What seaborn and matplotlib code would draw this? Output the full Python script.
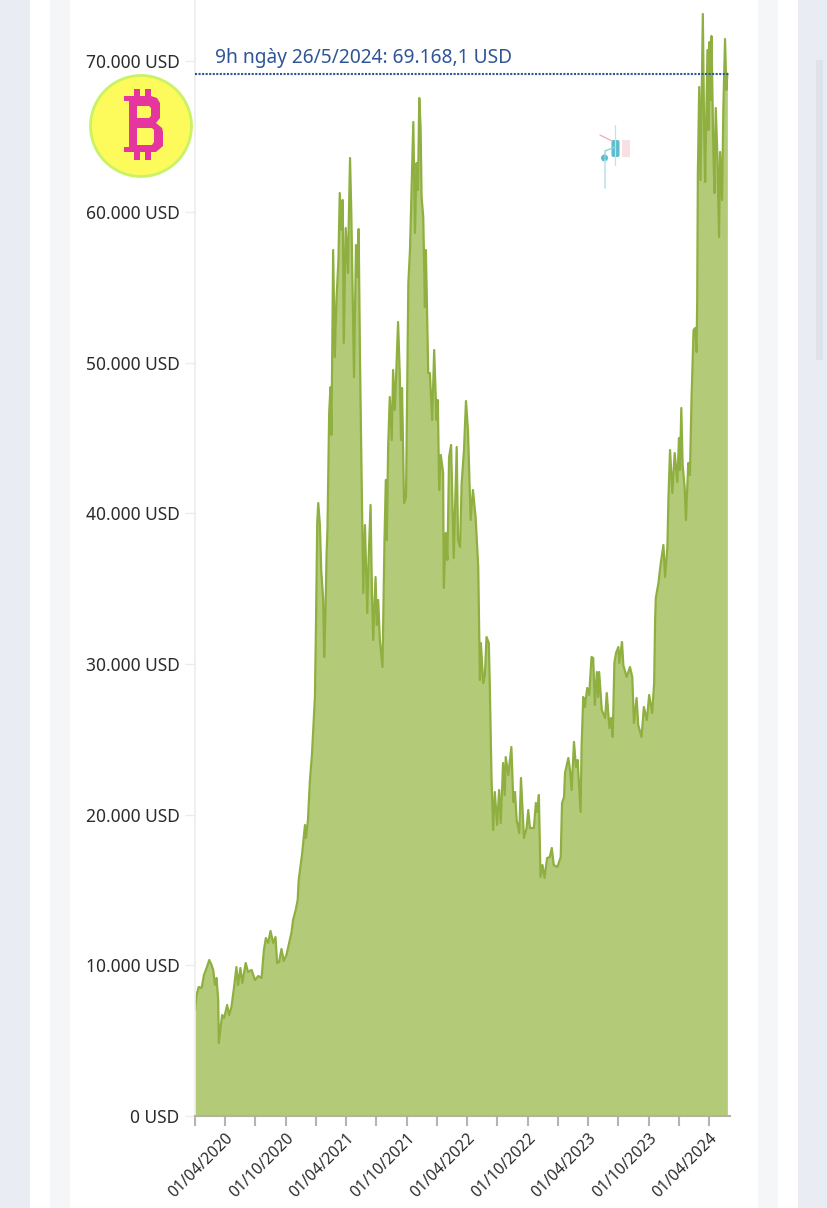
import numpy as np
import pandas as pd
import seaborn as sns
import matplotlib.pyplot as plt
import matplotlib.dates as mdates
from matplotlib.patches import Rectangle, Circle, FancyBboxPatch

# Values
start_date = "2020-01-01"
days_from_start = [
    0, 5, 11, 20, 27, 35, 43, 50, 55, 60, 65, 70, 72, 77, 82, 88, 97, 103, 110, 118,
    125, 130, 137, 143, 153, 160, 171, 181, 191, 201, 208, 214, 221, 228, 236, 243, 248, 254, 261, 268,
    276, 284, 291, 296, 304, 310, 313, 323, 332, 335, 341, 347, 353, 362, 365, 369, 372, 377, 381, 387,
    390, 394, 397, 400, 405, 409, 412, 417, 422, 427, 433, 437, 442, 446, 449, 455, 462, 464, 468, 472,
    480, 486, 490, 494, 498, 503, 508, 513, 520, 524, 530, 534, 538, 545, 549, 553, 558, 566, 572, 576,
    579, 583, 588, 594, 598, 603, 608, 613, 618, 622, 625, 631, 637, 644, 649, 654, 659, 664, 669, 673,
    677, 681, 684, 689, 694, 697, 704, 709, 716, 722, 729, 733, 737, 742, 749, 751, 757, 762, 767, 773,
    781, 790, 794, 800, 805, 812, 818, 824, 832, 839, 847, 852, 855, 860, 863, 870, 875, 880, 887, 890,
    895, 900, 905, 912, 918, 923, 930, 935, 938, 946, 955, 961, 966, 971, 979, 984, 993, 1001, 1006, 1011,
    1023, 1029, 1034, 1038, 1043, 1049, 1055, 1063, 1071, 1077, 1083, 1094, 1104, 1108, 1114, 1117, 1127, 1132, 1137, 1144,
    1150, 1155, 1164, 1167, 1172, 1177, 1184, 1190, 1197, 1202, 1207, 1213, 1217, 1220, 1228, 1238, 1243, 1251, 1256, 1261,
    1266, 1271, 1278, 1281, 1289, 1293, 1303, 1313, 1320, 1325, 1333, 1338, 1348, 1355, 1364, 1371, 1380, 1386, 1389, 1391,
    1399, 1406, 1414, 1419, 1426, 1429, 1434, 1441, 1448, 1456, 1461, 1464, 1468, 1472, 1478, 1482, 1489, 1494, 1499, 1502,
    1505, 1510, 1514, 1516, 1518, 1522, 1526, 1533, 1537, 1540, 1547, 1550, 1553, 1556, 1559, 1565, 1568, 1572, 1577, 1582,
    1585, 1591, 1595, 1600, 1604, 1607,
]
btc_usd = [
    7034, 8030, 8560, 8494, 9357, 9821, 10352, 10020, 9689, 8693, 9158, 7698, 4844, 5840, 6702, 6503, 7366, 6702, 7233, 8560,
    9888, 8693, 9821, 8826, 10153, 9556, 9689, 9025, 9290, 9158, 11016, 11812, 11480, 12277, 11480, 11878, 10153, 10219, 11082, 10286,
    10684, 11480, 12144, 13007, 13670, 14334, 15661, 17320, 19311, 18448, 19643, 22297, 23956, 27805, 32251, 39351, 40679, 39219, 36233, 34242,
    30459, 33578, 37095, 39086, 46651, 48376, 45191, 57468, 50367, 54150, 56804, 61250, 58795, 60786, 51296, 58928, 55941, 59127, 63573, 59790,
    49040, 57800, 55676, 58861, 50367, 42205, 34706, 39219, 33379, 36896, 40546, 34905, 31587, 35768, 32583, 34242, 31587, 29796, 38223, 42205,
    38223, 44395, 47713, 44859, 49505, 46850, 49637, 52690, 49305, 44859, 48310, 40679, 41077, 55278, 57468, 61648, 65962, 58596, 63241, 61449,
    67555, 65564, 60985, 59658, 53685, 57468, 49305, 49305, 46187, 50832, 46187, 47514, 41541, 43864, 42669, 35038, 38688, 36896, 43731, 44528,
    37029, 44395, 38223, 37759, 42006, 44196, 47447, 45523, 39551, 41541, 39750, 37692, 36432, 28933, 31388, 28734, 29265, 31786, 31388, 28468,
    22496, 18979, 21501, 19311, 21633, 19443, 23425, 21302, 23823, 22629, 24487, 20837, 21501, 19643, 18780, 22430, 18448, 19112, 20306, 19112,
    19112, 20771, 20173, 21302, 15860, 16656, 15794, 17121, 17187, 17784, 16656, 16524, 17187, 20771, 21169, 22761, 23757, 22961, 21633, 24819,
    23160, 23624, 20173, 24487, 27805, 27141, 28402, 27938, 30459, 30393, 27274, 29464, 27805, 29464, 26942, 26411, 28070, 25748, 26411, 25150,
    30061, 30725, 31123, 30061, 31455, 29928, 29132, 29796, 29132, 26079, 27738, 25947, 25150, 27141, 26279, 27938, 26743, 28734, 32915, 34374,
    35370, 36697, 37892, 35768, 37759, 40878, 44196, 41342, 43997, 42072, 44992, 42869, 46983, 43200, 41740, 39551, 43333, 42537, 47713, 49969,
    52159, 52292, 50699, 54150, 62577, 68284, 62113, 73129, 65232, 61980, 70740, 65431, 71271, 67422, 71669, 63905, 61250, 66891, 63639, 58330,
    63971, 60786, 66957, 71470, 68085, 69168,
]
y_ticks = [0, 10000, 20000, 30000, 40000, 50000, 60000, 70000]
y_labels = ["0 USD", "10.000 USD", "20.000 USD", "30.000 USD", "40.000 USD",
            "50.000 USD", "60.000 USD", "70.000 USD"]
tick_dates = pd.date_range("2020-01-01", "2024-04-01", freq="QS")
last_price = 69168.1
note = "9h ngày 26/5/2024: 69.168,1 USD"

FILL = "#b3cb78"
LINE = "#8fb040"
BLUE = "#2f5596"
W, H = 828, 1208

sns.set_theme(style="white")
plt.rcParams['font.family'] = ['Noto Sans', 'DejaVu Sans']

df = pd.DataFrame({"date": pd.Timestamp(start_date) + pd.to_timedelta(days_from_start, unit="D"),
                   "price": btc_usd})

fig = plt.figure(figsize=(W / 100, H / 100), dpi=100, facecolor="white")


def px_axes(zorder):
    # full figure axes in pixels, for the page around the chart and the icons
    a = fig.add_axes([0, 0, 1, 1], zorder=zorder)
    a.set_xlim(0, W)
    a.set_ylim(H, 0)
    a.axis("off")
    a.patch.set_alpha(0)
    return a


page = px_axes(0)
for x0, x1, col in [(0, 30, "#e9edf3"), (50, 70, "#f5f6f8"), (758, 778, "#f5f6f8"), (798, 828, "#e9edf3")]:
    page.add_patch(Rectangle((x0, 0), x1 - x0, H, color=col, lw=0))
page.add_patch(Rectangle((816, 60), 7, 300, color="#dfe2e8", lw=0))

# chart
ax = fig.add_axes([195 / W, (H - 1116) / H, 535 / W, 1116 / H], zorder=1)
ax.patch.set_alpha(0)
ax.fill_between(df["date"], df["price"], 0, color=FILL, lw=0)
sns.lineplot(data=df, x="date", y="price", color=LINE, lw=1.6, ax=ax, estimator=None, sort=False)

ax.set_xlim(pd.Timestamp(start_date), pd.Timestamp(start_date) + pd.Timedelta(days=1615))
ax.set_ylim(0, 74058)
ax.set_xlabel("")
ax.set_ylabel("")

ax.set_yticks(y_ticks)
ax.set_yticklabels(y_labels, fontsize=12.5, color="#2b2b2b")
ax.tick_params(axis="y", length=7.2, width=1, color="#ececec", pad=4, left=True)

ax.set_xticks(mdates.date2num(tick_dates))
x_labels = [d.strftime("%d/%m/%Y") if d.month in (4, 10) else "" for d in tick_dates]
ax.set_xticklabels(x_labels, fontsize=11.3, color="#2b2b2b", rotation=45, ha="right", rotation_mode="anchor")
ax.tick_params(axis="x", length=7.2, width=1.5, color="#b4b4b4", pad=3, bottom=True)

for s in ["top", "right"]:
    ax.spines[s].set_visible(False)
ax.spines["left"].set_color("#ececec")
ax.spines["left"].set_linewidth(1.2)
ax.spines["bottom"].set_color("#b0b3a4")
ax.spines["bottom"].set_linewidth(1.5)

ax.axhline(last_price, color=BLUE, ls=(0, (1, 0.7)), lw=1.5, xmax=534 / 535, zorder=5)
ax.annotate(note, xy=(215 / W, (H - 57.5) / H), xycoords="figure fraction", color=BLUE,
            fontsize=13.8, va="center", ha="left")

# icons
icons = px_axes(2)
YELLOW = "#fdfa5c"
PINK = "#e5359f"
icons.add_patch(Circle((141, 126), 50.5, fc=YELLOW, ec="#c9f266", lw=2))
for x0 in (134, 145):
    icons.add_patch(Rectangle((x0, 89), 6, 71, color=PINK, lw=0))
icons.fill([124, 151, 157, 160, 160, 156, 162, 163, 163, 156, 124, 124, 129, 129, 124],
           [96, 96, 98, 103, 118, 123, 128, 132, 146, 152, 152, 147, 147, 101, 101], color=PINK, lw=0)
icons.fill([137, 149, 151, 151, 149, 137], [106, 106, 108, 116, 118, 118], color=YELLOW, lw=0)
icons.fill([137, 152, 154, 154, 152, 137], [128, 128, 130, 142, 145, 145], color=YELLOW, lw=0)

icons.add_patch(Rectangle((622, 140), 8, 17, color="#f7dfe2", lw=0))
icons.plot([615, 615], [125, 165], color="#bfe3ea", lw=0.9)
icons.plot([605, 605], [160, 188], color="#bfe3ea", lw=1.2)
icons.plot([600, 612], [135, 141], color="#eeb4bd", lw=1)
icons.plot([605, 605, 615], [158, 151, 147], color="#8fd3dd", lw=1)
icons.add_patch(Circle((604.5, 158), 3.5, color="#5bbccc", lw=0))
icons.add_patch(FancyBboxPatch((613.5, 142), 4, 13, boxstyle="round,pad=2", color="#5bbccc", lw=0))

fig.savefig("out.png", dpi=100)
